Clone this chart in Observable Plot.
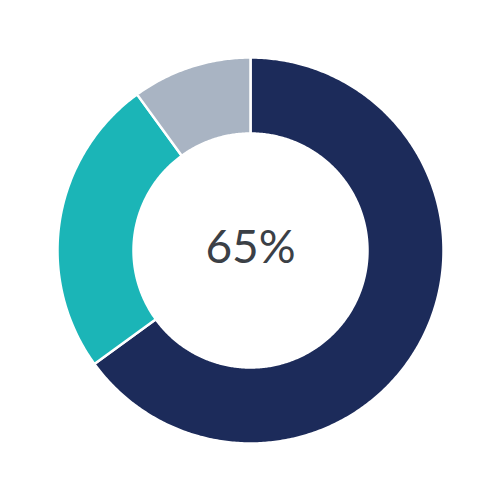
<!DOCTYPE html>
<html>
<head>
<meta charset="utf-8">
<script src="https://cdn.jsdelivr.net/npm/d3@7"></script>
<script src="https://cdn.jsdelivr.net/npm/@observablehq/plot@0.6"></script>
<style>
  html, body { margin: 0; padding: 0; background: #fff; }
  #chart { width: 500px; height: 500px; }
</style>
</head>
<body>
<div id="chart"></div>
<script>
const categories = ["A", "B", "C"];
const values = [65, 25, 10];
const colors = ["#1c2b5a", "#1bb5b7", "#a9b4c3"];
const centerLabel = "65%";

const outerR = 0.772;
const innerR = 0.468;

const pie = d3.pie().sort(null).value(d => d.value)(
  categories.map((c, i) => ({category: c, value: values[i]}))
);

// build polygon outline for each slice (arc geometry from pie angles)
const pts = [];
pie.forEach(p => {
  const n = Math.max(2, Math.ceil((p.endAngle - p.startAngle) / 0.01));
  const ring = [];
  for (let k = 0; k <= n; k++) {
    const a = p.startAngle + (p.endAngle - p.startAngle) * k / n;
    ring.push([outerR * Math.sin(a), outerR * Math.cos(a)]);
  }
  for (let k = n; k >= 0; k--) {
    const a = p.startAngle + (p.endAngle - p.startAngle) * k / n;
    ring.push([innerR * Math.sin(a), innerR * Math.cos(a)]);
  }
  ring.push(ring[0]);
  ring.forEach(([x, y]) => pts.push({category: p.data.category, x, y}));
});

const chart = Plot.plot({
  width: 500,
  height: 500,
  margin: 0,
  x: {domain: [-1, 1], axis: null},
  y: {domain: [-1, 1], axis: null},
  color: {domain: categories, range: colors},
  marks: [
    Plot.line(pts, {x: "x", y: "y", z: "category", fill: "category", stroke: "white", strokeWidth: 2.5, curve: "linear"}),
    Plot.text([centerLabel], {x: () => 0, y: () => 0, text: d => d, fontSize: 46, fontFamily: "Lato", fontWeight: 400, fill: "#3b4046", dy: -2})
  ]
});
document.getElementById("chart").appendChild(chart);
</script>
</body>
</html>
